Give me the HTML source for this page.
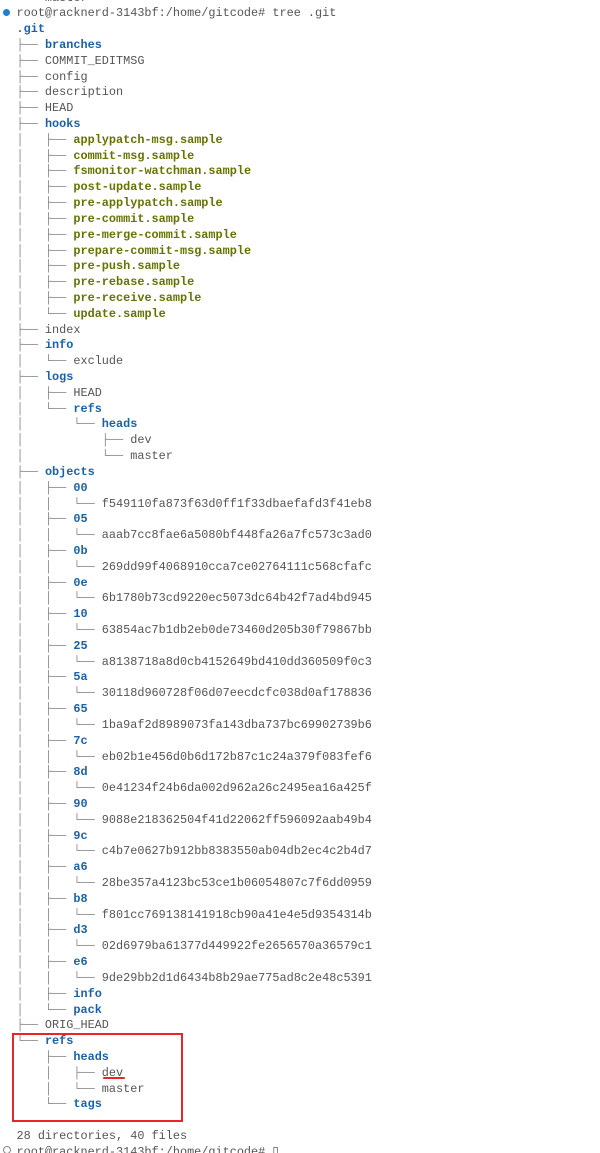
<!DOCTYPE html>
<html><head><meta charset="utf-8"><style>
html,body{margin:0;padding:0;background:#fff;width:600px;height:1153px;overflow:hidden;position:relative}
pre{position:absolute;left:16.5px;top:-9.5px;margin:0;font-family:"Liberation Mono",monospace;font-size:11.85px;line-height:15.82px;color:#555;white-space:pre}
.d{color:#1a62a8;font-weight:bold}
.s{color:#667300;font-weight:bold}
.t{color:#888}
.box{position:absolute;left:12px;top:1033px;width:167px;height:85px;border:2px solid #e8262a}
.ul{position:absolute;left:103px;top:1077px;width:22px;height:2px;background:#e8262a;border-radius:1px}
.dot{position:absolute;left:3px;top:9px;width:7px;height:7px;border-radius:50%;background:#1f7fd0}
.dot2{position:absolute;left:3px;top:1146px;width:6px;height:6px;border-radius:50%;border:1px solid #888}
</style></head><body>
<div class="dot"></div><div class="dot2"></div>
<pre>    master
root@racknerd-3143bf:/home/gitcode# tree .git
<span class="d">.git</span>
<span class="t">├──</span> <span class="d">branches</span>
<span class="t">├──</span> COMMIT_EDITMSG
<span class="t">├──</span> config
<span class="t">├──</span> description
<span class="t">├──</span> HEAD
<span class="t">├──</span> <span class="d">hooks</span>
<span class="t">│   ├──</span> <span class="s">applypatch-msg.sample</span>
<span class="t">│   ├──</span> <span class="s">commit-msg.sample</span>
<span class="t">│   ├──</span> <span class="s">fsmonitor-watchman.sample</span>
<span class="t">│   ├──</span> <span class="s">post-update.sample</span>
<span class="t">│   ├──</span> <span class="s">pre-applypatch.sample</span>
<span class="t">│   ├──</span> <span class="s">pre-commit.sample</span>
<span class="t">│   ├──</span> <span class="s">pre-merge-commit.sample</span>
<span class="t">│   ├──</span> <span class="s">prepare-commit-msg.sample</span>
<span class="t">│   ├──</span> <span class="s">pre-push.sample</span>
<span class="t">│   ├──</span> <span class="s">pre-rebase.sample</span>
<span class="t">│   ├──</span> <span class="s">pre-receive.sample</span>
<span class="t">│   └──</span> <span class="s">update.sample</span>
<span class="t">├──</span> index
<span class="t">├──</span> <span class="d">info</span>
<span class="t">│   └──</span> exclude
<span class="t">├──</span> <span class="d">logs</span>
<span class="t">│   ├──</span> HEAD
<span class="t">│   └──</span> <span class="d">refs</span>
<span class="t">│       └──</span> <span class="d">heads</span>
<span class="t">│           ├──</span> dev
<span class="t">│           └──</span> master
<span class="t">├──</span> <span class="d">objects</span>
<span class="t">│   ├──</span> <span class="d">00</span>
<span class="t">│   │   └──</span> f549110fa873f63d0ff1f33dbaefafd3f41eb8
<span class="t">│   ├──</span> <span class="d">05</span>
<span class="t">│   │   └──</span> aaab7cc8fae6a5080bf448fa26a7fc573c3ad0
<span class="t">│   ├──</span> <span class="d">0b</span>
<span class="t">│   │   └──</span> 269dd99f4068910cca7ce02764111c568cfafc
<span class="t">│   ├──</span> <span class="d">0e</span>
<span class="t">│   │   └──</span> 6b1780b73cd9220ec5073dc64b42f7ad4bd945
<span class="t">│   ├──</span> <span class="d">10</span>
<span class="t">│   │   └──</span> 63854ac7b1db2eb0de73460d205b30f79867bb
<span class="t">│   ├──</span> <span class="d">25</span>
<span class="t">│   │   └──</span> a8138718a8d0cb4152649bd410dd360509f0c3
<span class="t">│   ├──</span> <span class="d">5a</span>
<span class="t">│   │   └──</span> 30118d960728f06d07eecdcfc038d0af178836
<span class="t">│   ├──</span> <span class="d">65</span>
<span class="t">│   │   └──</span> 1ba9af2d8989073fa143dba737bc69902739b6
<span class="t">│   ├──</span> <span class="d">7c</span>
<span class="t">│   │   └──</span> eb02b1e456d0b6d172b87c1c24a379f083fef6
<span class="t">│   ├──</span> <span class="d">8d</span>
<span class="t">│   │   └──</span> 0e41234f24b6da002d962a26c2495ea16a425f
<span class="t">│   ├──</span> <span class="d">90</span>
<span class="t">│   │   └──</span> 9088e218362504f41d22062ff596092aab49b4
<span class="t">│   ├──</span> <span class="d">9c</span>
<span class="t">│   │   └──</span> c4b7e0627b912bb8383550ab04db2ec4c2b4d7
<span class="t">│   ├──</span> <span class="d">a6</span>
<span class="t">│   │   └──</span> 28be357a4123bc53ce1b06054807c7f6dd0959
<span class="t">│   ├──</span> <span class="d">b8</span>
<span class="t">│   │   └──</span> f801cc769138141918cb90a41e4e5d9354314b
<span class="t">│   ├──</span> <span class="d">d3</span>
<span class="t">│   │   └──</span> 02d6979ba61377d449922fe2656570a36579c1
<span class="t">│   ├──</span> <span class="d">e6</span>
<span class="t">│   │   └──</span> 9de29bb2d1d6434b8b29ae775ad8c2e48c5391
<span class="t">│   ├──</span> <span class="d">info</span>
<span class="t">│   └──</span> <span class="d">pack</span>
<span class="t">├──</span> ORIG_HEAD
<span class="t">└──</span> <span class="d">refs</span>
<span class="t">    ├──</span> <span class="d">heads</span>
<span class="t">    │   ├──</span> dev
<span class="t">    │   └──</span> master
<span class="t">    └──</span> <span class="d">tags</span>

28 directories, 40 files
root@racknerd-3143bf:/home/gitcode# ▯</pre>
<div class="box"></div><div class="ul"></div>
</body></html>
